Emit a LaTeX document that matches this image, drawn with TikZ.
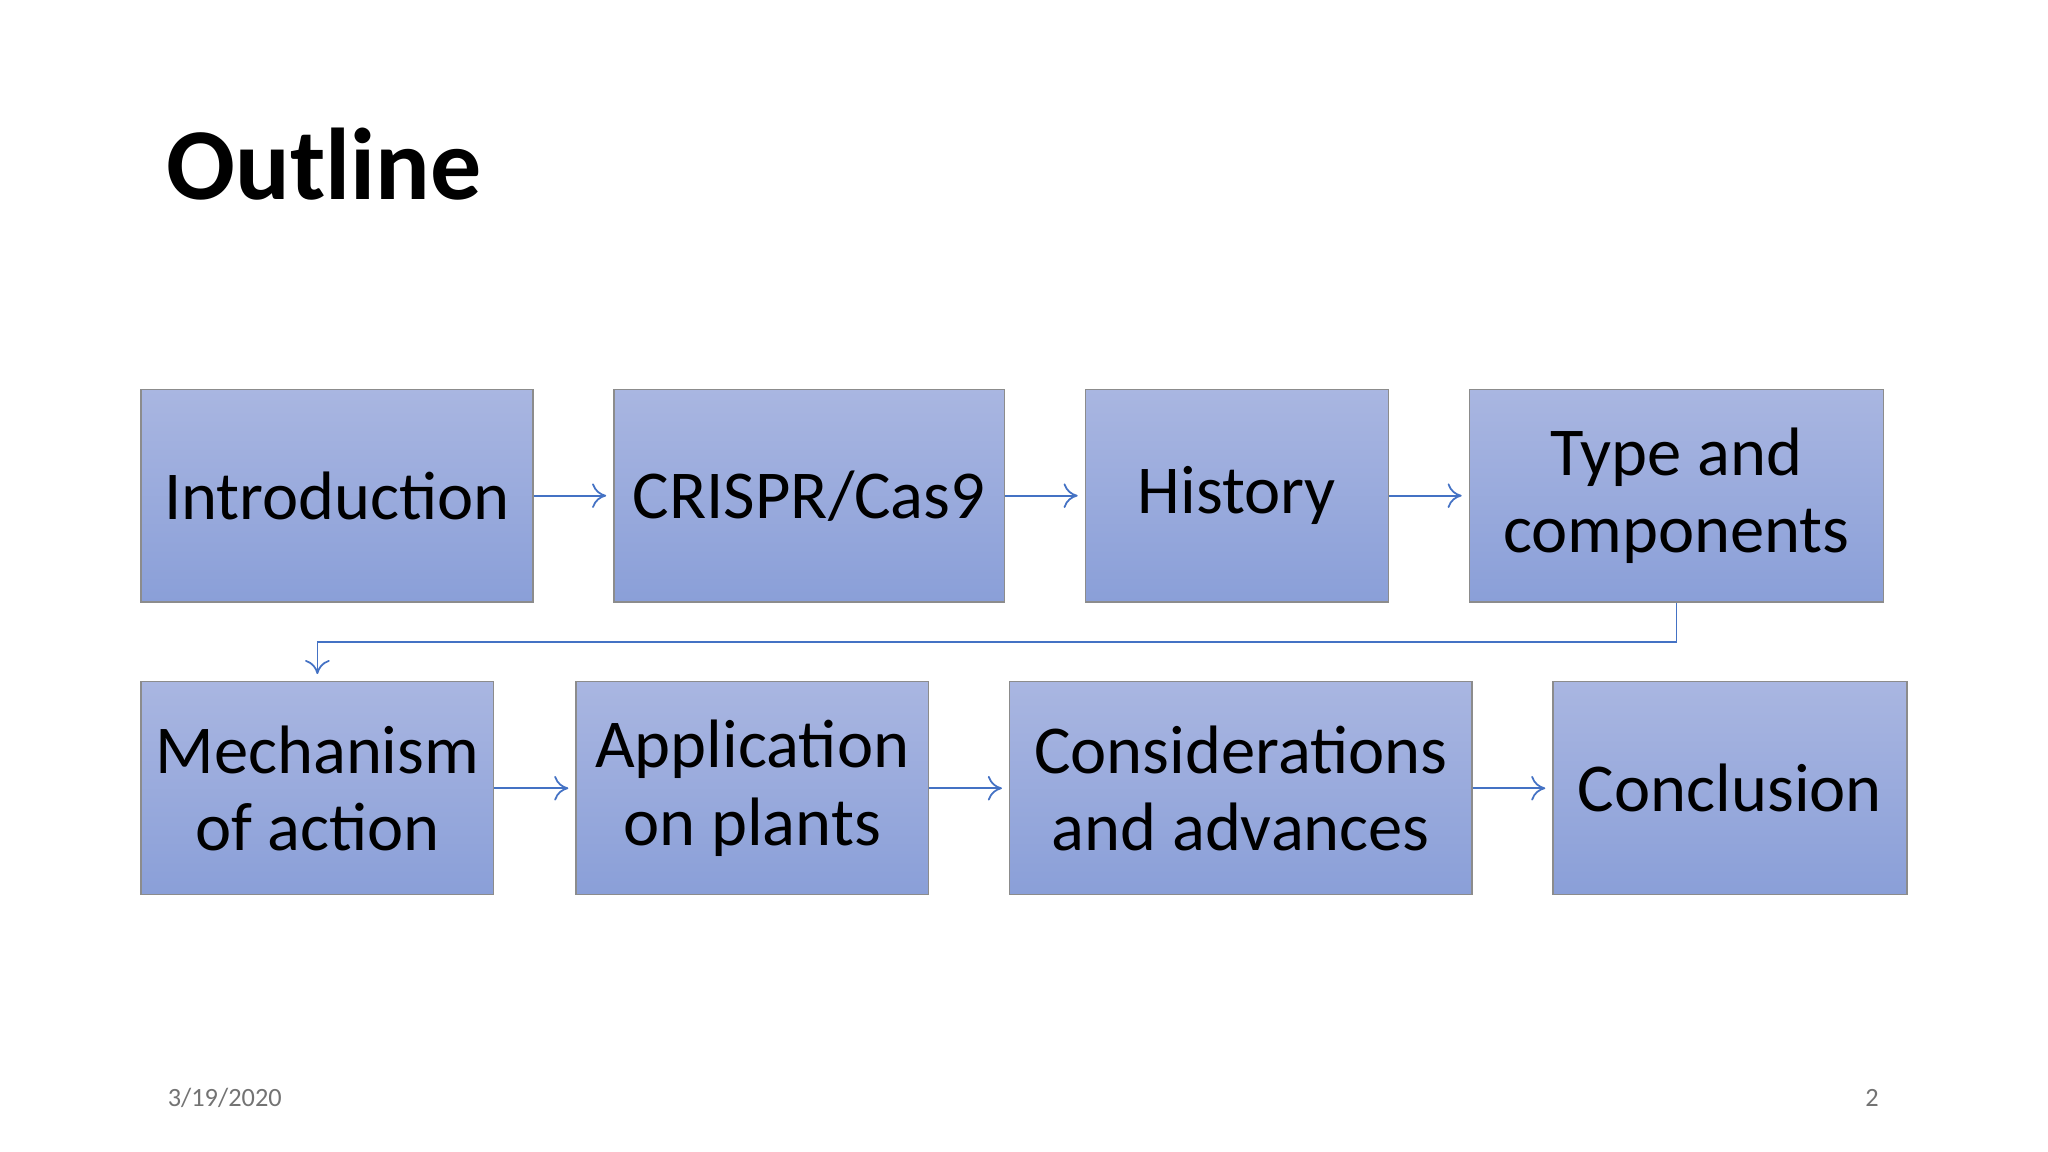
\documentclass[tikz,border=0pt]{standalone}
\usepackage{fontspec}
\setmainfont{Carlito}
\usetikzlibrary{arrows.meta}
\definecolor{boxtop}{HTML}{A9B6E1}
\definecolor{boxbot}{HTML}{8A9FD8}
\definecolor{arrowblue}{HTML}{4472C4}
\tikzstyle{block} = [rectangle, minimum height=2.129cm, text centered, draw=black!45, top color=boxtop, bottom color=boxbot, font=\fontsize{19.5}{22}\selectfont, align=center, inner sep=0pt]
\tikzstyle{arrow} = [draw=arrowblue, line width=0.5pt, -{To[length=4pt,width=7pt]}, shorten >=2pt]

\begin{document}
\begin{tikzpicture}[x=0.01306cm, y=-0.01306cm]
\useasboundingbox (0,0) rectangle (1568,882);

% Title
\node (title) [anchor=base west, font=\fontsize{29}{34}\bfseries] at (118,153) {Outline};

% First row
\node (intro) [block, minimum width=3.918cm] at (258,379.5) {Introduction};
\node (crispr) [block, minimum width=3.905cm] at (619.5,379.5) {CRISPR/Cas9};
\node (history) [block, minimum width=3.030cm] at (947,379.5) {History};
\node (type) [block, minimum width=4.140cm] at (1283.5,379.5) {Type and\\components};

% Second row
\node (mech) [block, minimum width=3.526cm] at (243,603.5) {Mechanism\\of action};
\node (appl) [block, minimum width=3.526cm] at (576,603.5) {Application\\on plants};
\node (consid) [block, minimum width=4.623cm] at (950,603.5) {Considerations\\and advances};
\node (concl) [block, minimum width=3.539cm] at (1324.5,603.5) {Conclusion};

% Arrows
\draw [arrow] (intro.east) -- (crispr.west);
\draw [arrow] (crispr.east) -- (history.west);
\draw [arrow] (history.east) -- (type.west);
\draw [arrow] (type.south) -- ++(0,30) -| (mech.north);
\draw [arrow] (mech.east) -- (appl.west);
\draw [arrow] (appl.east) -- (consid.west);
\draw [arrow] (consid.east) -- (concl.west);

% Footer
\node (date) [anchor=base west, text=black!55, font=\fontsize{7.5}{9}\selectfont] at (119,847) {3/19/2020};
\node (page) [anchor=base east, text=black!55, font=\fontsize{7.5}{9}\selectfont] at (1448,847) {2};
\end{tikzpicture}
\end{document}
